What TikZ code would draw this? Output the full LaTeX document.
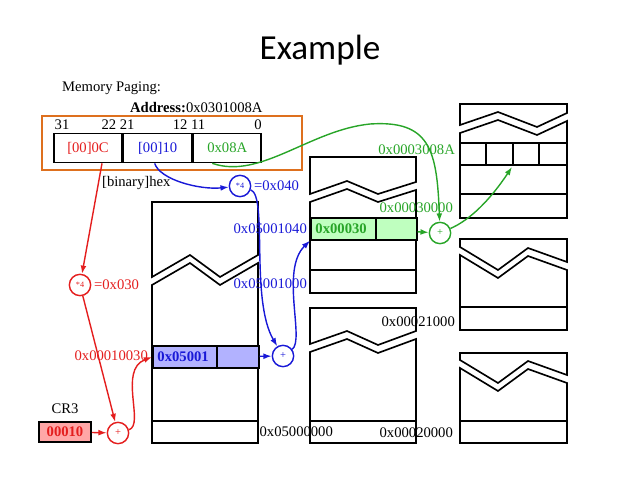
\documentclass[tikz,border=0pt]{standalone}
\usepackage{fontspec}
\setmainfont{Liberation Serif}
\newfontfamily\titlefont{Carlito}
\usetikzlibrary{positioning,arrows.meta}
\definecolor{pgred}{RGB}{228,30,30}
\definecolor{pgblue}{RGB}{25,25,215}
\definecolor{pggreen}{RGB}{40,165,40}
\definecolor{pgorange}{RGB}{222,112,30}
\begin{document}
\begin{tikzpicture}[x=0.03cm,y=-0.03cm,>={Latex[length=7pt,width=5pt]},font=\fontsize{12.5}{13}\selectfont]

\tikzset{mem/.style={draw=black, line width=1.4pt}}
\tikzset{field/.style={draw=black, line width=1.4pt, minimum width=2.04cm, minimum height=0.87cm, inner sep=0pt}}
\tikzset{row/.style={draw=black, line width=1.4pt, text width=2.9cm, align=left, inner xsep=0.14cm, minimum height=0.66cm, inner ysep=0pt, anchor=west}}
\tikzset{op/.style={circle, draw, line width=1.2pt, minimum size=0.64cm, inner sep=0pt}}
\tikzset{link/.style={line width=1.2pt,->}}

\useasboundingbox (0,0) rectangle (638,478);

% title
\node (title) at (320,50) {\titlefont\fontsize{30}{34}\selectfont Example};
\node[anchor=west] (mp) at (58,88) {Memory Paging:};
\node[anchor=west] (addr) at (126,108) {\textbf{Address:}0x0301008A};

% linear address
\draw[pgorange, line width=1.8pt] (42,116) rectangle (302,170);
\node[field, text=pgred] (dir) at (88,148) {[00]0C};
\node[field, text=pgblue, right=0pt of dir] (tab) {[00]10};
\node[field, text=pggreen, right=0pt of tab] (off) {0x08A};
\node (b31) at (62,125) {31};
\node (b22) at (118,125) {22 21};
\node (b12) at (189,125) {12 11};
\node (b0) at (258,125) {0};
\node[anchor=west] (hex) at (98,183) {[binary]hex};

% page directory
\draw[mem] (152,277) -- (152,202) -- (258,202) -- (258,255) -- (220,277) -- (190,255) -- cycle;
\draw[mem] (152,285) -- (190,263) -- (220,285) -- (258,263) -- (258,443) -- (152,443) -- cycle;
\draw[mem] (152,421) -- (258,421);
\node[row, fill=blue!30, text=pgblue] (pde) at (152,357) {\textbf{0x05001}};
\draw[mem] (217,346) -- (217,368);

% page table
\draw[mem] (310,194) -- (310,157) -- (416,157) -- (416,182) -- (378,194) -- (347,181) -- cycle;
\draw[mem] (310,202) -- (347,189) -- (378,202) -- (416,190) -- (416,293) -- (310,293) -- cycle;
\draw[mem] (310,270) -- (416,270);
\node[row, fill=green!25, text=pggreen] (pte) at (310,229) {\textbf{0x00030}};
\draw[mem] (376,218) -- (376,240);
\draw[mem] (310,344) -- (310,308) -- (416,308) -- (416,331) -- (378,345) -- (347,331) -- cycle;
\draw[mem] (310,352) -- (347,339) -- (378,353) -- (416,339) -- (416,443) -- (310,443) -- cycle;
\draw[mem] (310,421) -- (416,421);

% page frames
\draw[mem] (460,125) -- (460,104) -- (567,104) -- (567,113) -- (537,127) -- (498,112) -- cycle;
\draw[mem] (460,133) -- (498,120) -- (537,135) -- (567,121) -- (567,218) -- (460,218) -- cycle;
\draw[mem] (460,143) -- (567,143) (460,165) -- (567,165) (460,194) -- (567,194);
\foreach \cx in {486,513,539} \draw[mem] (\cx,143) -- (\cx,165);
\draw[mem] (460,247) -- (460,239) -- (567,239) -- (567,262) -- (528,248) -- (498,270) -- cycle;
\draw[mem] (460,255) -- (498,278) -- (528,256) -- (567,270) -- (567,330) -- (460,330) -- cycle;
\draw[mem] (460,307) -- (567,307);
\draw[mem] (460,360) -- (460,353) -- (567,353) -- (567,375) -- (528,361) -- (498,383) -- cycle;
\draw[mem] (460,368) -- (498,391) -- (528,369) -- (567,383) -- (567,443) -- (460,443) -- cycle;
\draw[mem] (460,421) -- (567,421);
\coordinate (byte) at (512,167);

% address labels
\node[anchor=east, text=pgred] (a1) at (152,356) {0x00010030};
\node[anchor=east, text=pgblue] (a2) at (311,229) {0x05001040};
\node[anchor=east, text=pgblue] (a3) at (311,284) {0x05001000};
\node[anchor=east] (a4) at (337,432) {0x05000000};
\node[anchor=east, text=pggreen] (a5) at (459,150) {0x0003008A};
\node[anchor=east, text=pggreen] (a6) at (457,208) {0x00030000};
\node[anchor=east] (a7) at (459,322) {0x00021000};
\node[anchor=east] (a8) at (457,433) {0x00020000};

% CR3
\node (cr3l) at (65,409) {CR3};
\node[draw=black, line width=1.8pt, fill=red!35, text=pgred, minimum width=1.55cm, minimum height=0.62cm, inner sep=0pt] (cr3) at (65,432) {\textbf{00010}};

% operators
\node[op, pgred] (mulr) at (80,285) {\scriptsize *4};
\node[anchor=west, text=pgred] (mrv) at (90,285) {=0x030};
\node[op, pgred] (addr1) at (118,433) {\small +};
\node[op, pgblue] (mulb) at (240,186) {\scriptsize *4};
\node[anchor=west, text=pgblue] (mbv) at (250,186) {=0x040};
\node[op, pgblue] (addb) at (283,356) {\small +};
\node[op, pggreen] (addg) at (440,233) {\small +};

% red path
\draw[link, pgred] (dir.south) ++(14,0) coordinate (dirb) -- (mulr);
\draw[link, pgred] (mulr) -- (addr1);
\draw[link, pgred] (cr3) -- (addr1);
\draw[link, pgred] (addr1) .. controls (145,425) and (118,370) .. (pde.west);

% blue path
\draw[link, pgblue] (tab.south) ++(-3,0) coordinate (tabb) .. controls (160,180) and (200,190) .. (mulb);
\draw[link, pgblue] (mulb) .. controls (268,196) and (250,300) .. (addb);
\draw[link, pgblue] (pde) -- (addb);
\draw[link, pgblue] (addb) .. controls (305,340) and (280,270) .. ([yshift=-10pt]pte.west);

% green path
\draw[link, pggreen] (off.south) ++(-15,0) coordinate (offb) .. controls (260,180) and (310,130) .. (370,124) .. controls (430,120) and (437,150) .. (addg);
\draw[link, pggreen] (pte) -- (addg);
\draw[link, pggreen] (addg) .. controls (470,220) and (490,200) .. (byte);

\end{tikzpicture}
\end{document}
